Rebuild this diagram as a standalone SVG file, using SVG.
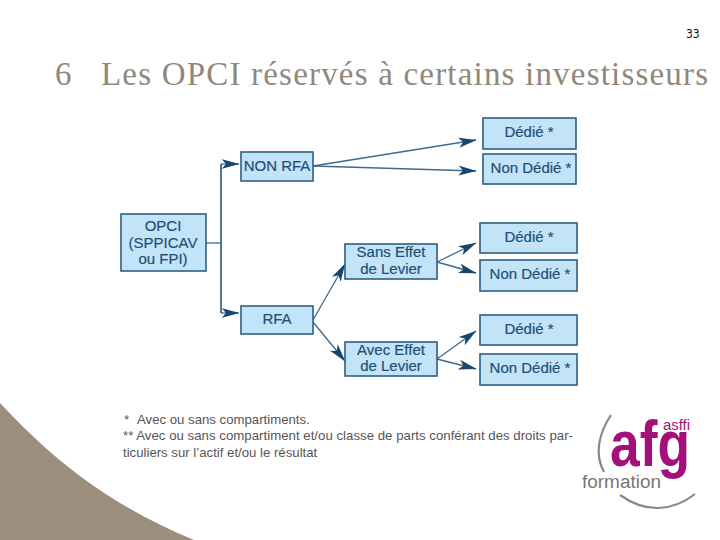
<svg xmlns="http://www.w3.org/2000/svg" width="720" height="540" viewBox="0 0 720 540">
<defs>
<marker id="ah" markerUnits="userSpaceOnUse" markerWidth="18" markerHeight="11" refX="17.500" refY="5.500" orient="auto" viewBox="0 0 18 11"><path d="M0 0.500L18 5.500L0 10.500L4.500 5.500Z" fill="#17466f"/></marker>
</defs>
<style>
.b{fill:#c3e4f7;stroke:#2c5f86;stroke-width:1.6}
.t{font-family:"Liberation Sans",Arial,sans-serif;font-size:15px;fill:#1f4f78;stroke:#1f4f78;stroke-width:.2;text-anchor:middle}
.c{fill:none;stroke:#3d6a8e;stroke-width:1.3}
.a{marker-end:url(#ah)}
.f{font-family:"Liberation Sans",Arial,sans-serif;font-size:13.200px;fill:#555}
</style>
<rect width="720" height="540" fill="#fff"/>
<path d="M0 403C55 462 110 505 194 540L0 540Z" fill="#9c8e7c"/>
<text x="686" y="38" font-family="'DejaVu Sans Condensed','DejaVu Sans',sans-serif" font-size="12" fill="#111">33</text>
<text x="55" y="85" font-family="'Liberation Serif','Times New Roman',serif" font-size="33" fill="#8f887c">6</text>
<text x="101" y="85" font-family="'Liberation Serif','Times New Roman',serif" font-size="33" fill="#8f887c" textLength="607" lengthAdjust="spacing">Les OPCI réservés à certains investisseurs</text>
<g id="connectors">
<path class="c" d="M206 243H221"/>
<path class="c" d="M221 164V313" style="stroke-width:1.8"/>
<path class="c a" d="M221 164H239"/>
<path class="c a" d="M221 313H239"/>
<path class="c a" d="M313 166L476 140"/>
<path class="c a" d="M313 166L476 171"/>
<path class="c a" d="M313 320L345 264"/>
<path class="c a" d="M313 322L345 361"/>
<path class="c a" d="M437 262L476 243"/>
<path class="c a" d="M437 262L476 273"/>
<path class="c a" d="M437 359L476 331"/>
<path class="c a" d="M437 359L476 369"/>
</g>
<g id="opci"><rect class="b" x="121" y="214" width="85" height="57"/><text class="t" x="163" y="231">OPCI</text><text class="t" x="163" y="247.500">(SPPICAV</text><text class="t" x="163" y="264">ou FPI)</text></g>
<g id="non-rfa"><rect class="b" x="241" y="152" width="72" height="29"/><text class="t" x="277" y="171">NON RFA</text></g>
<g id="rfa"><rect class="b" x="241" y="306" width="72" height="28"/><text class="t" x="277" y="324">RFA</text></g>
<g id="sans-effet"><rect class="b" x="345" y="244" width="92" height="35"/><text class="t" x="391" y="257">Sans Effet</text><text class="t" x="391" y="274">de Levier</text></g>
<g id="avec-effet"><rect class="b" x="345" y="342" width="92" height="34"/><text class="t" x="391" y="355">Avec Effet</text><text class="t" x="391" y="371">de Levier</text></g>
<g id="dedie-1"><rect class="b" x="483" y="118" width="93" height="31"/><text class="t" x="529" y="137">Dédié *</text></g>
<g id="non-dedie-1"><rect class="b" x="483" y="154" width="93" height="30"/><text class="t" x="531" y="173">Non Dédié *</text></g>
<g id="dedie-2"><rect class="b" x="480" y="223" width="97" height="30"/><text class="t" x="529" y="242">Dédié *</text></g>
<g id="non-dedie-2"><rect class="b" x="480" y="260" width="97" height="31"/><text class="t" x="530" y="279">Non Dédié *</text></g>
<g id="dedie-3"><rect class="b" x="480" y="315" width="97" height="30"/><text class="t" x="529" y="334">Dédié *</text></g>
<g id="non-dedie-3"><rect class="b" x="480" y="354" width="97" height="31"/><text class="t" x="530" y="373">Non Dédié *</text></g>
<text class="f" x="124" y="424">*</text>
<text class="f" x="137" y="424">Avec ou sans compartiments.</text>
<text class="f" x="123" y="440" textLength="450" lengthAdjust="spacingAndGlyphs">** Avec ou sans compartiment et/ou classe de parts conférant des droits par-</text>
<text class="f" x="123" y="457">ticuliers sur l’actif et/ou le résultat</text>
<g id="logo">
<path d="M611 415C599 433 594 454 604 472" fill="none" stroke="#8f877c" stroke-width="2.200"/>
<path d="M620 495C645 513 672 512 695 494" fill="none" stroke="#8f877c" stroke-width="2.200"/>
<text x="610" y="466" font-family="'Liberation Sans',Arial,sans-serif" font-weight="700" font-size="64" fill="#a3107a" textLength="80" lengthAdjust="spacingAndGlyphs">afg</text>
<text x="663" y="430" font-family="'Liberation Sans',Arial,sans-serif" font-size="14" fill="#a3107a" textLength="27" lengthAdjust="spacingAndGlyphs">asffi</text>
<text x="582" y="488" font-family="'Liberation Sans',Arial,sans-serif" font-size="18" fill="#7d766c" textLength="79" lengthAdjust="spacingAndGlyphs">formation</text>
</g>
</svg>
